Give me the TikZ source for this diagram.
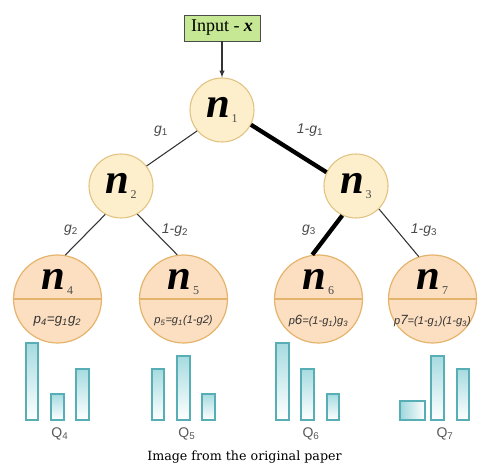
\documentclass[tikz,border=0pt]{standalone}
\usepackage{fontspec}
\setmainfont{Liberation Serif}
\setsansfont{Liberation Sans}
\newfontfamily\capfont{DejaVu Serif}
\usepackage{tikz}

\definecolor{innerfill}{HTML}{FDEFCB}
\definecolor{innerline}{HTML}{E2C27F}
\definecolor{leaffill}{HTML}{FCDEC0}
\definecolor{leafline}{HTML}{E5B46C}
\definecolor{inputfill}{HTML}{C6E794}
\definecolor{barline}{HTML}{58AEB5}
\definecolor{bartop}{HTML}{A6DBE0}
\definecolor{labelgray}{HTML}{4A4A4A}

\newcommand{\nname}[1]{{\fontsize{32}{32}\selectfont\textbf{\textit{n}}}\kern1pt\raisebox{-3.5pt}{\fontsize{9}{9}\selectfont\color{black!70}#1}}

\begin{document}
\begin{tikzpicture}[x=0.75pt,y=0.75pt,yscale=-1,xscale=1,
  innernode/.style={circle,draw=innerline,fill=innerfill,line width=0.8pt,minimum size=48pt,inner sep=0pt},
  leafnode/.style={circle,draw=leafline,fill=leaffill,line width=0.9pt,minimum size=66pt,inner sep=0pt},
  thin/.style={draw=black!80,line width=0.8pt},
  thick/.style={draw=black,line width=3.2pt},
  elabel/.style={text=labelgray,font=\sffamily\fontsize{10.5}{10.5}\selectfont,inner sep=0.75pt},
  ptext/.style={text=black!80,font=\sffamily\itshape\fontsize{8.3}{8.3}\selectfont,inner sep=0.75pt},
  qlabel/.style={text=black!65,font=\sffamily\fontsize{10.5}{10.5}\selectfont,inner sep=0.75pt},
  bar/.style={draw=barline,line width=0.8pt,top color=bartop,bottom color=white}]
\useasboundingbox (0,0) rectangle (489,470);

% Input box
\node (input) at (222,28) [draw=black!70,fill=inputfill,line width=0.7pt,minimum width=57pt,minimum height=19.5pt,inner sep=0pt,font=\fontsize{13.5}{13.5}\selectfont] {Input - \textbf{\textit{x}}};

% Inner nodes
\node (n1) at (222,110) [innernode] {\nname{1}};
\node (n2) at (121,186) [innernode] {\nname{2}};
\node (n3) at (356,186) [innernode] {\nname{3}};

% Leaf nodes
\node (n4) at (57.5,299) [leafnode] {};
\node (n5) at (183.5,299) [leafnode] {};
\node (n6) at (318.5,299) [leafnode] {};
\node (n7) at (432.5,299) [leafnode] {};
\draw [leafline,line width=0.9pt] (n4.west) -- (n4.east);
\draw [leafline,line width=0.9pt] (n5.west) -- (n5.east);
\draw [leafline,line width=0.9pt] (n6.west) -- (n6.east);
\draw [leafline,line width=0.9pt] (n7.west) -- (n7.east);

% Text Node
\node (t4) at (57.5,282) {\nname{4}};
\node (t5) at (183.5,282) {\nname{5}};
\node (t6) at (318.5,282) {\nname{6}};
\node (t7) at (432.5,282) {\nname{7}};
\node (p4) at (57.5,321) [ptext,font=\sffamily\itshape\fontsize{10}{10}\selectfont] {p\textsubscript{4}=g\textsubscript{1}g\textsubscript{2}};
\node (p5) at (183.5,321) [ptext] {p\textsubscript{5}=g\textsubscript{1}(1-g2)};
\node (p6) at (318.5,321) [ptext] {p{\fontsize{10}{10}\selectfont 6}=(1-g\textsubscript{1})g\textsubscript{3}};
\node (p7) at (432.5,321) [ptext] {p{\fontsize{10}{10}\selectfont 7}=(1-g\textsubscript{1})(1-g\textsubscript{3})};

% Straight Lines
\draw [thin,-latex] (input) -- (n1);
\draw [thin] (n1.220) -- (n2.38);
\draw [thick] (n1.333) -- (n3.155);
\draw [thin] (n2.241) -- (n4.80);
\draw [thin] (n2.300) -- (n5.98);
\draw [thick] (n3.245) -- (n6.98);
\draw [thin] (n3.315) -- (n7.108);

% Edge labels
\node (lg1) at (161,131) [elabel] {\textit{g}\textsubscript{1}};
\node (lh1) at (310,130) [elabel] {\textit{1-g}\textsubscript{1}};
\node (lg2) at (71,230) [elabel] {\textit{g}\textsubscript{2}};
\node (lh2) at (175,230) [elabel] {\textit{1-g}\textsubscript{2}};
\node (lg3) at (309,230) [elabel] {\textit{g}\textsubscript{3}};
\node (lh3) at (424,230) [elabel] {\textit{1-g}\textsubscript{3}};

% Bars
\draw [bar] (26,343) rectangle (38,420);
\draw [bar] (51,394) rectangle (64,420);
\draw [bar] (76,369) rectangle (89,420);
\draw [bar] (152,369) rectangle (164,420);
\draw [bar] (177,356) rectangle (190,420);
\draw [bar] (202,394) rectangle (215,420);
\draw [bar] (276,343) rectangle (289,420);
\draw [bar] (301,369) rectangle (314,420);
\draw [bar] (327,394) rectangle (339,420);
\draw [draw=barline,line width=0.8pt,left color=bartop!90!barline,right color=white] (400,401) rectangle (425,420);
\draw [bar] (431,356) rectangle (444,420);
\draw [bar] (457,369) rectangle (469,420);

% Q labels
\node (q4) at (60,434) [qlabel] {Q\textsubscript{4}};
\node (q5) at (187,434) [qlabel] {Q\textsubscript{5}};
\node (q6) at (311,434) [qlabel] {Q\textsubscript{6}};
\node (q7) at (445,434) [qlabel] {Q\textsubscript{7}};

% Caption
\node (caption) at (244.5,457) [font=\capfont\fontsize{9.5}{9.5}\selectfont] {Image from the original paper};

\end{tikzpicture}
\end{document}
